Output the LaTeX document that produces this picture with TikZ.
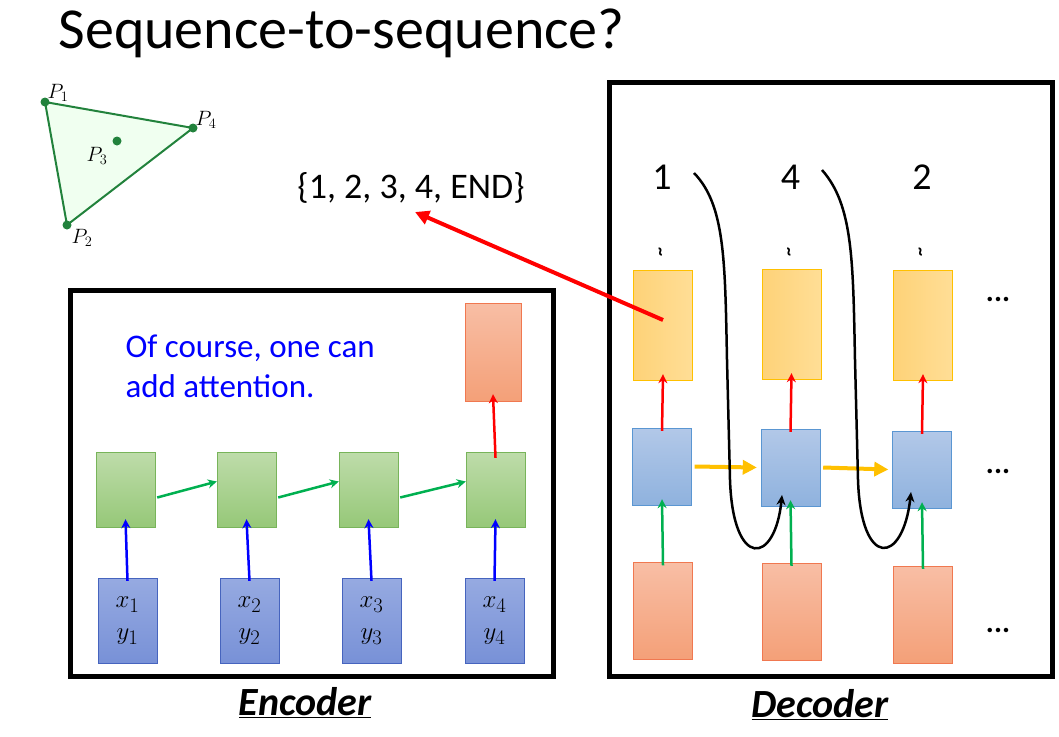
\documentclass[tikz,border=0pt]{standalone}
\usepackage{fontspec}
\setmainfont{Carlito}
\usepackage{graphicx}
\usetikzlibrary{arrows.meta}
\definecolor{dg}{RGB}{34,130,60}
\definecolor{gT}{RGB}{190,220,170}\definecolor{gB}{RGB}{150,200,120}\definecolor{gD}{RGB}{120,180,90}
\definecolor{xT}{RGB}{150,170,225}\definecolor{xB}{RGB}{120,145,215}\definecolor{xD}{RGB}{70,100,190}
\definecolor{oT}{RGB}{248,190,165}\definecolor{oB}{RGB}{244,160,120}\definecolor{oD}{RGB}{240,120,80}
\definecolor{yL}{RGB}{254,210,120}\definecolor{yR}{RGB}{255,222,150}\definecolor{yD}{RGB}{255,192,0}
\definecolor{bT}{RGB}{178,200,232}\definecolor{bB}{RGB}{143,178,222}\definecolor{bD}{RGB}{90,150,210}
\definecolor{ag}{RGB}{0,176,80}
\begin{document}
\begin{tikzpicture}[x=1pt,y=-1pt,
  frame/.style={draw=black,line width=5pt},
  gbox/.style={top color=gT,bottom color=gB,draw=gD},
  xbox/.style={draw=xD,top color=xT,bottom color=xB},
  obox/.style={draw=oD,top color=oT,bottom color=oB},
  ybox/.style={draw=yD,left color=yL,right color=yR},
  bbox/.style={draw=bD,top color=bT,bottom color=bB},
  arr/.style={line width=2.5pt,-{Stealth[length=9pt,width=9pt]}},
  yarr/.style={line width=4pt,draw=yD,-{Triangle[length=14pt,width=14pt]}},
  curv/.style={line width=2.5pt,-{Stealth[length=10pt,width=9pt]}},
  dots/.style={font=\fontsize{30}{30}\selectfont\bfseries},
  lab/.style={font=\fontsize{40}{40}\selectfont\bfseries\itshape}
]
\useasboundingbox (0,0) rectangle (1059,736);
\node[anchor=west,font=\fontsize{58}{58}\selectfont] (title) at (55,33) {Sequence-to-sequence?};
% triangle
\coordinate (p1) at (45,102); \coordinate (p4) at (193,128); \coordinate (p2) at (67,225); \coordinate (p3) at (117,141);
\draw[dg,line width=2pt,fill=green!6] (p1)--(p4)--(p2)--cycle;
\foreach \p in {p1,p2,p3,p4} \fill[dg] (\p) circle (4.5pt);
\node[font=\fontsize{20}{20}\selectfont] (l1) at (58,93) {$P_1$};
\node[font=\fontsize{20}{20}\selectfont] (l4) at (206,120) {$P_4$};
\node[font=\fontsize{20}{20}\selectfont] (l2) at (82,238) {$P_2$};
\node[font=\fontsize{20}{20}\selectfont] (l3) at (97,156) {$P_3$};
\node[font=\fontsize{36}{36}\selectfont] (set) at (411,188) {\{1, 2, 3, 4, END\}};
% frames
\draw[frame] (70,290) rectangle (553,676);
\draw[frame] (609,82) rectangle (1052,676);
\node[anchor=west,text=blue,font=\fontsize{33}{40}\selectfont,align=left] (txt) at (122,366) {Of course, one can\\add attention.};
% encoder
\foreach \i/\x/\xx in {1/96/98,2/217/220,3/339/342,4/466/465}{
  \node[gbox,minimum width=59pt,minimum height=75pt,inner sep=0] (g\i) at (\x+29.5,489.5) {};
  \node[xbox,minimum width=59pt,minimum height=85pt,inner sep=0,font=\fontsize{30}{34}\selectfont,align=center] (x\i) at (\xx+29.5,620.5) {$x_\i$\\[-2pt]$y_\i$};
  \draw[arr,blue] ([yshift=-3]x\i.north) -- ([yshift=8]g\i.south);
}
\foreach \a/\b in {1/2,2/3,3/4} \draw[arr,ag] ([shift={(2,8)}]g\a.east) -- ([yshift=8]g\b.west);
\node[obox,minimum width=56pt,minimum height=98pt,inner sep=0] (eo) at (493,352) {};
\draw[arr,red] ([yshift=-6]g4.north) -- ([yshift=7]eo.south);
% decoder
\foreach \i/\x/\yy/\b/\o/\n in {1/663/325/466.5/611/1,2/791.5/324/467.5/611.5/4,3/923/325/469.5/614.5/2}{
  \node[ybox,minimum width=59pt,minimum height=110pt,inner sep=0] (y\i) at (\x,\yy) {};
  \node[bbox,minimum width=59pt,minimum height=77pt,inner sep=0] (b\i) at (\x-1,\b) {};
  \node[obox,minimum width=59pt,minimum height=97pt,inner sep=0] (o\i) at (\x,\o) {};
  \node[font=\fontsize{38}{38}\selectfont] (n\i) at (\x-1,177) {\n};
  \node[font=\fontsize{18}{18}\selectfont\bfseries] (t\i) at (\x-1,252) {\rotatebox{90}{\textasciitilde}};
  \draw[arr,red] ([yshift=-3]b\i.north) -- ([yshift=6]y\i.south);
  \draw[arr,ag] ([yshift=-3]o\i.north) -- ([yshift=6]b\i.south);
}
\draw[yarr] ([xshift=3]b1.east) -- ([xshift=-4]b2.west);
\draw[yarr] ([xshift=3]b2.east) -- ([xshift=-4]b3.west);
\coordinate (c1) at (694,173); \coordinate (e1) at (782,495);
\coordinate (c2) at (822,170); \coordinate (e2) at (911,492);
\draw[curv] (c1) .. controls (725,205) and (725,260) .. (727,360) -- (730,480) .. controls (733,570) and (775,565) .. (e1);
\draw[curv] (c2) .. controls (853,205) and (853,260) .. (855,360) -- (858,480) .. controls (861,570) and (903,565) .. (e2);
\node[dots] (d1) at (998,299) {...};
\node[dots] (d2) at (998,471) {...};
\node[dots] (d3) at (998,630) {...};
\coordinate (rs) at (663,320);
\coordinate (re) at (415,212);
\draw[red,line width=4pt,-{Triangle[length=14pt,width=14pt]}] (rs) -- (re);
\node[lab] (enc) at (305,703) {\underline{Encoder}};
\node[lab] (dec) at (820,705) {\underline{Decoder}};
\end{tikzpicture}
\end{document}
